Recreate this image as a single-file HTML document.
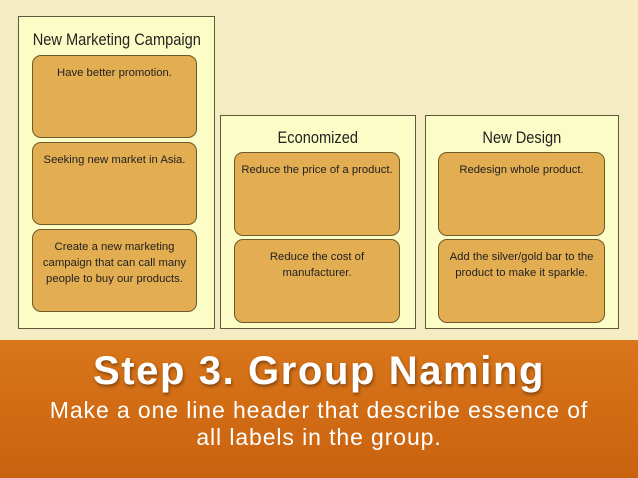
<!DOCTYPE html>
<html><head><style>
body{margin:0;width:638px;height:478px;overflow:hidden;background:#f6ecc4;font-family:"Liberation Sans",sans-serif;position:relative}
.p{position:absolute;background:#fcfdc6;border:1px solid #5a5a3a;box-sizing:border-box}
.t{position:absolute;left:0;right:0;text-align:center;font-size:17px;color:#222}
.t span{display:inline-block;transform:scaleX(0.86)}
.c{position:absolute;background:#e3ad52;border:1px solid #6b5a2a;border-radius:9px;box-sizing:border-box;text-align:center;font-size:11.3px;color:#222;padding-top:9px;line-height:16px}
.band{position:absolute;left:0;top:340px;width:638px;height:138px;background:linear-gradient(#d9761a,#c9620f)}
</style></head><body>
<div class="p" style="left:18px;top:16px;width:197px;height:313px"></div>
<div class="t" style="left:18px;width:197px;top:30px"><span>New Marketing Campaign</span></div>
<div class="c" style="left:32px;top:55px;width:165px;height:83px">Have better promotion.</div>
<div class="c" style="left:32px;top:142px;width:165px;height:83px">Seeking new market in Asia.</div>
<div class="c" style="left:32px;top:229px;width:165px;height:83px">Create a new marketing<br>campaign that can call many<br>people to buy our products.</div>
<div class="p" style="left:220px;top:115px;width:196px;height:214px"></div>
<div class="t" style="left:220px;width:196px;top:128px"><span>Economized</span></div>
<div class="c" style="left:234px;top:152px;width:166px;height:84px">Reduce the price of a product.</div>
<div class="c" style="left:234px;top:239px;width:166px;height:84px">Reduce the cost of<br>manufacturer.</div>
<div class="p" style="left:425px;top:115px;width:194px;height:214px"></div>
<div class="t" style="left:425px;width:194px;top:128px"><span>New Design</span></div>
<div class="c" style="left:438px;top:152px;width:167px;height:84px">Redesign whole product.</div>
<div class="c" style="left:438px;top:239px;width:167px;height:84px">Add the silver/gold bar to the<br>product to make it sparkle.</div>
<div class="band"></div>
<div style="position:absolute;left:0;width:638px;top:349px;text-align:center;color:#fff;font-weight:bold;font-size:40px;letter-spacing:1.6px;text-shadow:1px 2px 3px rgba(0,0,0,.4)">Step 3. Group Naming</div>
<div style="position:absolute;left:0;width:638px;top:397px;text-align:center;color:#fff;font-size:23px;letter-spacing:0.9px;line-height:27px">Make a one line header that describe essence of<br>all labels in the group.</div>
</body></html>
